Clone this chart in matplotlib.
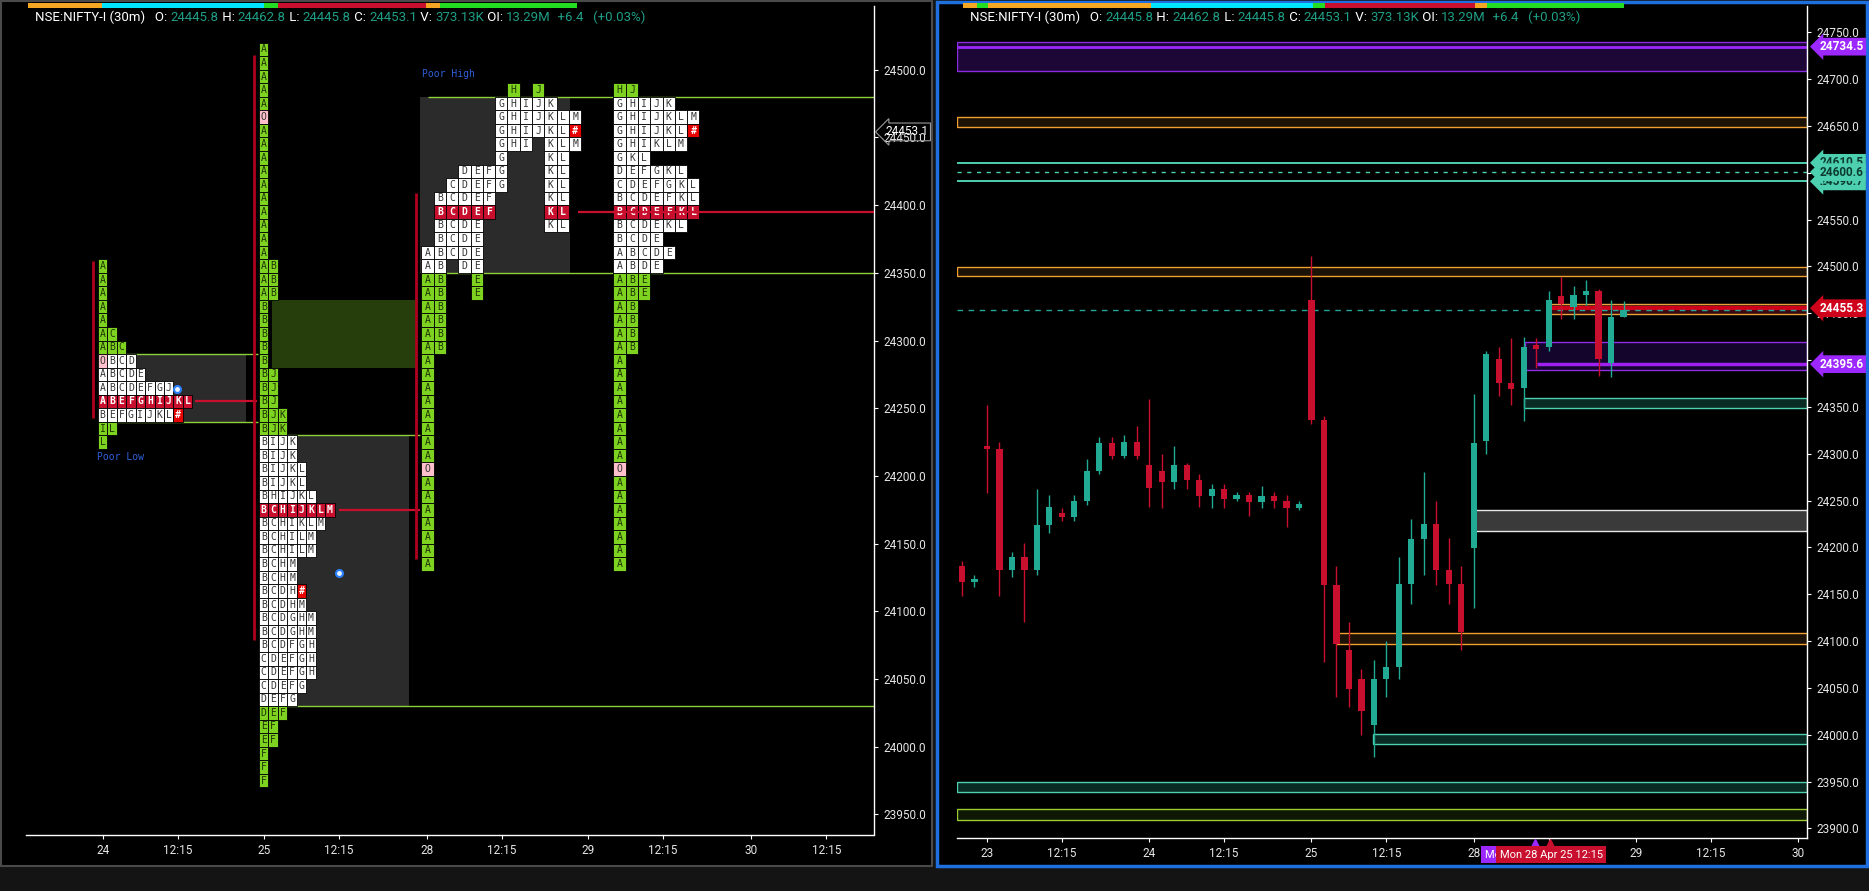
import matplotlib
matplotlib.use("Agg")
import matplotlib.pyplot as plt
import matplotlib.transforms as mtransforms
from matplotlib.patches import Rectangle
import numpy as np

# ---------------- left panel: TPO profiles (rows go down 10 points each) ----------------
day24_top = 24350
day24_rows = ["A", "A", "A", "A", "A", "AC", "ABC", "OBCD", "ABCDE", "ABCDEFGJ",
              "ABEFGHIJKL", "BEFGIJKL#", "IL", "L"]
day24_va = (24240, 24280)
day24_poc = 24250
day24_ib = (24243, 24359)

day25_top = 24510
day25_rows = ["A", "A", "A", "A", "A", "O", "A", "A", "A", "A", "A", "A", "A", "A", "A", "A",
              "AB", "AB", "AB", "B", "B", "B", "B", "B", "BJ", "BJ", "BJ", "BJK", "BJK",
              "BIJK", "BIJK", "BIJKL", "BIJKL", "BHIJKL", "BCHIJKLM", "BCHIKLM", "BCHILM",
              "BCHILM", "BCHM", "BCHM", "BCDH#", "BCDHM", "BCDGHM", "BCDGHM", "BCDFGH",
              "CDEFGH", "CDEFGH", "CDEFG", "DEFG", "DEF", "EF", "EF", "F", "F", "F"]
day25_va = (24030, 24220)
day25_poc = 24170
day25_ib = (24079, 24511)
day25_single = (24280, 24330)

day28_top = 24480
day28_rows = ["HJ", "GHIJK", "GHIJKLM", "GHIJKL#", "GHIKLM", "GKL", "DEFGKL", "CDEFGKL",
              "BCDEFKL", "BCDEFKL", "BCDEKL", "BCDE", "ABCDE", "ABDE", "ABE", "ABE",
              "AB", "AB", "AB", "AB", "A", "A", "A", "A", "A", "A", "A", "A", "O",
              "A", "A", "A", "A", "A", "A", "A"]
day28_va = (24350, 24470)
day28_poc = 24390
day28_ib = (24139, 24409)

# 12:15 markers
dot_x = [7.92, 25.06]
dot_y = [24264, 24128]

left_last = 24453.1
left_day_ticks = [0, 17.03, 34.31, 51.33, 68.62]
left_day_labels = ["24", "25", "28", "29", "30"]

# ---------------- right panel: 30m candles ----------------
# bar -2..-1 = 22 Apr, 0..12 = 23, 13..25 = 24, 26..38 = 25, 39..51 = 28
c_open = [24180, 24163, 24308, 24305, 24176, 24190, 24176, 24224, 24237, 24232, 24250, 24282, 24311, 24298, 24312,
          24288, 24282, 24270, 24288, 24272, 24255, 24262, 24252, 24256, 24248, 24255, 24250, 24242,
          24464, 24336, 24160, 24090, 24059, 24010, 24059, 24072, 24161, 24209, 24225, 24176, 24161,
          24199, 24314, 24401, 24376, 24370, 24416, 24414, 24468, 24457, 24469, 24474, 24397, 24445.8]
c_high = [24186, 24171, 24352, 24313, 24195, 24205, 24262, 24256, 24242, 24256, 24294, 24318, 24318, 24320, 24330,
          24358, 24300, 24308, 24290, 24278, 24268, 24268, 24259, 24259, 24266, 24259, 24256, 24250,
          24511, 24340, 24180, 24120, 24070, 24080, 24100, 24190, 24230, 24280, 24250, 24210, 24180,
          24364, 24410, 24414, 24424, 24425, 24424, 24474, 24489, 24479, 24485, 24476, 24464, 24462.8]
c_low = [24148, 24158, 24258, 24148, 24168, 24120, 24170, 24215, 24228, 24228, 24245, 24278, 24294, 24295, 24294,
         24243, 24242, 24262, 24262, 24243, 24242, 24242, 24250, 24233, 24242, 24242, 24222, 24240,
         24332, 24078, 24040, 24030, 24000, 23976, 24040, 24060, 24140, 24170, 24160, 24140, 24091,
         24135, 24300, 24362, 24352, 24335, 24391, 24410, 24444, 24444, 24459, 24383, 24382, 24445.8]
c_close = [24163, 24166, 24305, 24176, 24190, 24176, 24224, 24243, 24232, 24250, 24282, 24311, 24298, 24312, 24298,
           24263, 24270, 24288, 24272, 24255, 24262, 24252, 24256, 24248, 24255, 24250, 24242, 24246,
           24336, 24160, 24097, 24049, 24025, 24059, 24072, 24161, 24209, 24225, 24176, 24161, 24110,
           24311, 24406, 24375, 24369, 24414, 24412, 24464, 24460, 24469, 24474, 24401, 24446, 24453.1]

# horizontal zones: low, high, first bar (None = whole chart)
zone_lo = [24708, 24649, 24489.5, 24449, 24389.3, 24348.4, 24218, 24097, 23990, 23939.4, 23909]
zone_hi = [24739, 24659, 24499.5, 24459.5, 24418.9, 24359, 24239.7, 24109, 24001, 23949.6, 23920.4]
zone_from = [None, None, None, 45, 43.1, 43.05, 39.05, 27.96, 30.93, None, None]
zone_edge = ["#8a2be2", "#f0a030", "#f0a030", "#e8a33c", "#8e2de2", "#4dd0b0", "#e6e6e6",
             "#f0a030", "#4dd0b0", "#4dd0b0", "#9acd32"]
zone_fill = ["#1c0736", "#1c1206", "#1c1206", "#3a0a10", "#14052c", "#0a2a24", "#3a3a3a",
             "#1c1206", "#0a2a24", "#0a2a24", "#0f1805"]

right_tags = [(24734.5, "#9c27ff", "white"), (24610.5, "#4dd0b0", "#0d3b30"),
              (24590.7, "#4dd0b0", "#0d3b30"), (24600.6, "#4dd0b0", "#0d3b30"),
              (24455.3, "#d0021b", "white"), (24395.6, "#9c27ff", "white")]
right_last = 24453.1
right_day_ticks = [0, 13, 26, 39, 52, 65]
right_day_labels = ["23", "24", "25", "28", "29", "30"]

header = [("NSE:NIFTY-I (30m)   O: ", "w"), ("24445.8", "v"), (" H: ", "w"), ("24462.8", "v"),
          (" L: ", "w"), ("24445.8", "v"), (" C: ", "w"), ("24453.1", "v"), (" V: ", "w"),
          ("373.13K", "v"), (" OI: ", "w"), ("13.29M", "v"), ("  +6.4   (+0.03%)", "v")]
left_strip = [(-7.92, -0.07, "#f5a623"), (-0.07, 17.12, "#00e5ff"), (17.12, 18.54, "#22dd22"),
              (18.54, 34.26, "#c8102e"), (34.26, 35.68, "#f5a623"), (35.68, 50.19, "#22dd22")]
right_strip = [(-1.92, -0.8, "#f5a623"), (-0.8, 0.08, "#22dd22"), (0.08, 13.14, "#f5a623"),
               (13.14, 26.12, "#00e5ff"), (26.12, 27.08, "#22dd22"), (27.08, 39.1, "#c8102e"),
               (39.1, 40.06, "#f5a623"), (40.06, 51.0, "#22dd22")]

GREEN = "#7ed321"
RED = "#c8102e"
TEAL = "#22ab94"
VA_LINE = "#8fcf3c"
TXT = "#e6e6e6"

W, H = 1869, 891
fig = plt.figure(figsize=(W / 100, H / 100), dpi=100, facecolor="#141414")

def fx(px):
    return px / W

def fy(py):
    return 1 - py / H

# panel frames (behind the axes)
fig.patches.append(Rectangle((fx(1), fy(866)), fx(931), 865 / H, transform=fig.transFigure,
                             fc="black", ec="#4a4a4a", lw=1.5, zorder=-5))
fig.patches.append(Rectangle((fx(937), fy(866)), fx(930), 864 / H, transform=fig.transFigure,
                             fc="black", ec="#1f6fe0", lw=2.5, zorder=-5))

axL = fig.add_axes([fx(26), fy(834.5), fx(848), 828.5 / H])
axR = fig.add_axes([fx(957), fy(838), fx(850), 832 / H])

for ax in (axL, axR):
    ax.set_facecolor("black")
    for s in ("top", "left"):
        ax.spines[s].set_visible(False)
    for s in ("right", "bottom"):
        ax.spines[s].set_color("white")
        ax.spines[s].set_linewidth(1)
    ax.yaxis.tick_right()
    ax.tick_params(colors="white", labelcolor=TXT, labelsize=8.5, length=3, width=0.8)


def draw_profile(ax, x0, w, top, rows, va, poc, packed):
    for i, letters in enumerate(rows):
        p = top - 10 * i
        for j, ch in enumerate(letters):
            if packed:
                col = j
            elif ch == "O":
                col = 0
            elif ch == "#":
                col = 12
            else:
                col = ord(ch) - ord("A")
            xc = x0 + col * w
            if ch == "O":
                fc, tc, fw = "#ffc0cb", "#333333", "normal"
            elif ch == "#":
                fc, tc, fw = "#e60000", "white", "bold"
            elif p == poc:
                fc, tc, fw = RED, "white", "bold"
            elif va[0] <= p <= va[1]:
                fc, tc, fw = "white", "#333333", "normal"
            else:
                fc, tc, fw = GREEN, "#1e3300", "normal"
            ax.add_patch(Rectangle((xc - w / 2, p), w, 10, fc=fc, ec="black", lw=0.6, zorder=3))
            ax.text(xc, p + 5, ch, ha="center", va="center", color=tc, fontsize=7,
                    fontweight=fw, family="DejaVu Sans Mono", zorder=4)


# ---------------- left panel ----------------
xmaxL = 81.6
axL.set_xlim(-8.1, xmaxL)
axL.set_ylim(23935.2, 24547.1)

x24, x25, x28, x28p = 0, 17.05, 34.38, 54.69
wide = 1.3

# value area boxes and single print zone
axL.add_patch(Rectangle((x24 - 0.5, day24_va[0]), 15.2 - x24 + 0.5, day24_va[1] + 10 - day24_va[0],
                        fc="#2b2b2b", ec="none", zorder=1))
axL.add_patch(Rectangle((x25 - 0.5, day25_va[0]), 32.4 - x25 + 0.5, day25_va[1] + 10 - day25_va[0],
                        fc="#2b2b2b", ec="none", zorder=1))
axL.add_patch(Rectangle((x28 - 0.85, day28_va[0]), 49.45 - x28 + 0.85, day28_va[1] + 10 - day28_va[0],
                        fc="#2b2b2b", ec="none", zorder=1))
axL.add_patch(Rectangle((x25 + 0.9, day25_single[0]), 33.3 - x25 - 0.9, day25_single[1] - day25_single[0],
                        fc="#263d0c", ec="none", zorder=1))

# VAH / VAL lines
axL.hlines([day24_va[0], day24_va[1] + 10], x24, 16.4, color=VA_LINE, lw=1, zorder=2)
axL.hlines(day25_va[1] + 10, x25, 33.6, color=VA_LINE, lw=1, zorder=2)
axL.hlines(day25_va[0], x25, xmaxL, color=VA_LINE, lw=1, zorder=2)
axL.hlines([day28_va[0], day28_va[1] + 10], x28, xmaxL, color=VA_LINE, lw=1, zorder=2)

# POC lines
axL.hlines(day24_poc + 5, x24 + 9.8, 16.3, color=RED, lw=1.6, zorder=2)
axL.hlines(day25_poc + 5, x25 + 8.0, 33.6, color=RED, lw=1.6, zorder=2)

# initial balance lines
axL.vlines(x24 - 1.0, *day24_ib, color="#b0001e", lw=2, zorder=2)
axL.vlines(x25 - 1.0, *day25_ib, color="#b0001e", lw=2, zorder=2)
axL.vlines(x28 - 1.2, *day28_ib, color="#b0001e", lw=2, zorder=2)

draw_profile(axL, x24, 1.0, day24_top, day24_rows, day24_va, day24_poc, True)
draw_profile(axL, x25, 1.0, day25_top, day25_rows, day25_va, day25_poc, True)
draw_profile(axL, x28, wide, day28_top, day28_rows, day28_va, day28_poc, False)
draw_profile(axL, x28p, wide, day28_top, day28_rows, day28_va, day28_poc, True)

axL.hlines(day28_poc + 5, x28 + 12.5 * wide - 0.3, xmaxL, color=RED, lw=1.6, zorder=5)

axL.plot(dot_x, dot_y, "o", ms=5, mfc="#eaf4ff", mec="#2a7fff", mew=1.5, zorder=6)

axL.text(x24 - 0.6, 24214, "Poor Low", color="#2f5fd8", fontsize=7, family="DejaVu Sans Mono",
         va="center", ha="left")
axL.text(x28 - 0.6, 24497, "Poor High", color="#2f5fd8", fontsize=7, family="DejaVu Sans Mono",
         va="center", ha="left")

yt = np.arange(23950, 24501, 50)
axL.set_yticks(yt)
axL.set_yticklabels([f"{v:.1f}" for v in yt], family="Roboto")
xt = []
xl = []
for d, lab in zip(left_day_ticks, left_day_labels):
    xt += [d, d + 7.95]
    xl += [lab, "12:15"]
axL.set_xticks(xt)
axL.set_xticklabels(xl, family="Roboto")

# last price marker, drawn over the 24450 tick label like the platform does
axL.annotate(f"{left_last:.1f}", xy=(1, left_last), xycoords=("axes fraction", "data"),
             xytext=(8, 1), textcoords="offset points", ha="left", va="center", color="white",
             fontsize=8.5, family="Roboto", zorder=10, annotation_clip=False,
             bbox=dict(boxstyle="larrow,pad=0.2", fc="none", ec="#9a9a9a", lw=0.8))

# ---------------- right panel ----------------
xmaxR = 65.7
axR.set_xlim(-2.4, xmaxR)
axR.set_ylim(23889.8, 24777.9)

for lo, hi, start, ec, fc in zip(zone_lo, zone_hi, zone_from, zone_edge, zone_fill):
    x0 = -2.4 if start is None else start
    axR.add_patch(Rectangle((x0, lo), xmaxR - x0, hi - lo, fc=fc, ec=ec, lw=1, zorder=1))

axR.hlines(24734.5, -2.4, xmaxR, color="#9c27ff", lw=2, zorder=2)
axR.hlines([24610.5, 24590.7], -2.4, xmaxR, color="#4dd0b0", lw=1.4, zorder=2)
axR.hlines(24600.6, -2.4, xmaxR, color="#4dd0b0", lw=1, linestyles=(0, (3, 4)), zorder=2)
axR.hlines(24455.3, 45, xmaxR, color="#d0021b", lw=3, zorder=2)
axR.hlines(24395.6, 44.05, xmaxR, color="#a020f0", lw=2.5, zorder=2)
axR.hlines(right_last, -2.4, xmaxR, color="#26a69a", lw=1, linestyles=(0, (4, 4)), zorder=2)

bars = np.arange(-2, 52)
o = np.array(c_open)
c = np.array(c_close)
up = c >= o
col = np.where(up, TEAL, RED)
axR.vlines(bars, c_low, c_high, color=col, lw=1, zorder=3)
body = np.maximum(np.abs(c - o), 1.2)
axR.bar(bars, body, bottom=np.minimum(o, c), width=0.5, color=col, zorder=4)

yt = np.arange(23900, 24751, 50)
axR.set_yticks(yt)
axR.set_yticklabels([f"{v:.1f}" for v in yt], family="Roboto")
xt = []
xl = []
for d, lab in zip(right_day_ticks, right_day_labels):
    xt.append(d)
    xl.append(lab)
    if d + 6 < xmaxR:
        xt.append(d + 6)
        xl.append("12:15")
axR.set_xticks(xt)
axR.set_xticklabels(xl, family="Roboto")

for price, fc, tc in right_tags:
    axR.annotate(f"{price:.1f}", xy=(1, price), xycoords=("axes fraction", "data"),
                 xytext=(9, 0), textcoords="offset points", ha="left", va="center", color=tc,
                 fontsize=8.5, fontweight="bold", family="Roboto", zorder=10, annotation_clip=False,
                 bbox=dict(boxstyle="larrow,pad=0.2", fc=fc, ec="none"))

# crosshair date labels
xaxis_tr = mtransforms.blended_transform_factory(axR.transData, axR.transAxes)
axR.plot([43.9], [-0.006], marker="^", ms=6, color="#9c27ff", transform=xaxis_tr, clip_on=False, zorder=9)
axR.plot([45.08], [-0.006], marker="^", ms=6, color=RED, transform=xaxis_tr, clip_on=False, zorder=9)
axR.annotate("Mon 28 Apr 25 11:45", xy=(44.0, 0), xycoords=xaxis_tr, xytext=(0, -12),
             textcoords="offset points", ha="center", va="center", color="white", fontsize=8,
             family="Roboto", zorder=10, annotation_clip=False,
             bbox=dict(boxstyle="square,pad=0.3", fc="#9c27ff", ec="none"))
axR.annotate("Mon 28 Apr 25 12:15", xy=(45.2, 0), xycoords=xaxis_tr, xytext=(0, -12),
             textcoords="offset points", ha="center", va="center", color="white", fontsize=8,
             family="Roboto", zorder=11, annotation_clip=False,
             bbox=dict(boxstyle="square,pad=0.3", fc=RED, ec="none"))

# ---------------- headers ----------------
for ax, strip, x0 in ((axL, left_strip, -7.14), (axR, right_strip, -1.36)):
    tr = mtransforms.blended_transform_factory(ax.transData, fig.transFigure)
    for a, b, cc in strip:
        fig.patches.append(Rectangle((a, fy(8)), b - a, 4.5 / H, transform=tr, fc=cc, ec="none"))
    t = ax.annotate(header[0][0], xy=(x0, fy(17.5)), xycoords=tr, ha="left", va="center",
                    color="white", fontsize=9.5, family="Roboto", annotation_clip=False)
    for s, k in header[1:]:
        t = ax.annotate(s, xy=(1, 0), xycoords=t, ha="left", va="bottom",
                        color="white" if k == "w" else "#1f9e85", fontsize=9.5, family="Roboto",
                        annotation_clip=False)

fig.savefig("out.png", dpi=100, facecolor=fig.get_facecolor())
